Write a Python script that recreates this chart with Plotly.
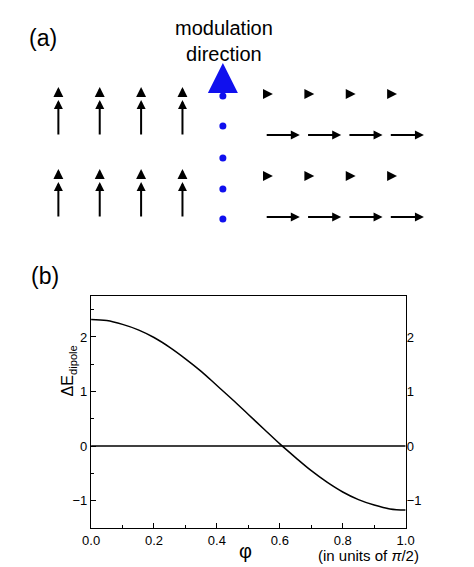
import plotly.graph_objects as go

# (b) curve
phi = [0.0, 0.05, 0.1, 0.15, 0.2, 0.25, 0.3, 0.35, 0.4, 0.45, 0.5,
       0.55, 0.6, 0.65, 0.7, 0.75, 0.8, 0.85, 0.9, 0.95, 1.0]
dE = [2.32, 2.30, 2.23, 2.13, 1.99, 1.81, 1.60, 1.37, 1.11, 0.85, 0.58,
      0.31, 0.04, -0.21, -0.45, -0.66, -0.84, -0.98, -1.08, -1.15, -1.17]

# (a) spin sketch positions, pixel units of the top panel
up_x = [43, 86, 129, 172]
row_y = [86, 168]
right_x = [258, 301, 344, 387]
dots_y = [88, 118, 150, 181, 211]
mod_x = 214

fig = go.Figure()
fig.add_trace(go.Scatter(x=phi, y=dE, mode="lines", line=dict(color="black", width=1.5, shape="spline"),
                         showlegend=False))
fig.add_trace(go.Scatter(x=[0, 1], y=[0, 0], mode="lines", line=dict(color="black", width=1.5),
                         showlegend=False))
fig.add_trace(go.Scatter(x=[0], y=[0], yaxis="y3", mode="markers", marker=dict(opacity=0),
                         showlegend=False, hoverinfo="skip"))
fig.add_trace(go.Scatter(x=[mod_x] * len(dots_y), y=dots_y, xaxis="x2", yaxis="y2", mode="markers",
                         marker=dict(color="#1010ee", size=7, symbol="circle"), showlegend=False))

arr = dict(xref="x2", yref="y2", axref="x2", ayref="y2", showarrow=True, arrowhead=2,
           arrowcolor="black", text="")
ann = []
for ry in row_y:
    for x in up_x:
        ann.append(dict(x=x, y=ry - 7, ax=x, ay=ry - 2, arrowsize=0.9, arrowwidth=2.2, **arr))
        ann.append(dict(x=x, y=ry + 6, ax=x, ay=ry + 42, arrowsize=0.9, arrowwidth=2, **arr))
    for x in right_x:
        ann.append(dict(x=x + 8, y=ry, ax=x + 3, ay=ry, arrowsize=0.9, arrowwidth=2.2, **arr))
        ann.append(dict(x=x + 36, y=ry + 41, ax=x, ay=ry + 41, arrowsize=0.9, arrowwidth=2, **arr))
ann.append(dict(x=mod_x, y=55, ax=mod_x, ay=86, xref="x2", yref="y2", axref="x2", ayref="y2",
                showarrow=True, arrowhead=2, arrowsize=1.5, arrowwidth=4, arrowcolor="#1010ee", text=""))

txt = dict(family="Arial", color="black")
ann += [
    dict(x=215, y=7, text="modulation<br>direction", xref="x2", yref="y2", showarrow=False,
         yanchor="top", font=dict(size=20, **txt)),
    dict(x=10, y=30, text="(a)", xref="x2", yref="y2", showarrow=False, xanchor="left",
         font=dict(size=23, **txt)),
    dict(x=12 / 474, y=1 - 268 / 567, text="(b)", xref="paper", yref="paper", showarrow=False,
         xanchor="left", font=dict(size=23, **txt)),
    dict(x=237 / 474, y=1 - 556 / 567, text="φ", xref="paper", yref="paper", showarrow=False,
         font=dict(size=20, **txt)),
    dict(x=420 / 474, y=1 - 558 / 567, text="(in units of <i>π</i>/2)", xref="paper", yref="paper",
         showarrow=False, xanchor="right", font=dict(size=15, **txt)),
    dict(x=42 / 474, y=1 - 390 / 567, text="ΔE<sub>dipole</sub>", xref="paper", yref="paper",
         showarrow=False, textangle=-90, font=dict(size=16, **txt)),
]

tf = dict(family="Arial", size=13, color="black")
ax_common = dict(showline=True, linecolor="black", linewidth=1.3, mirror=True, ticks="inside",
                 ticklen=5, tickcolor="black", showgrid=False, zeroline=False, tickfont=tf)
fig.update_layout(
    width=474, height=567, margin=dict(l=0, r=0, t=0, b=0),
    plot_bgcolor="white", paper_bgcolor="white",
    xaxis=dict(domain=[77 / 474, 404 / 474], range=[0, 1], dtick=0.2, tickformat=".1f",
               minor=dict(dtick=0.1, ticks="inside", ticklen=3, tickcolor="black"), **ax_common),
    yaxis=dict(domain=[1 - 520 / 567, 1 - 288 / 567], range=[-1.5, 2.75], dtick=1,
               minor=dict(dtick=0.5, ticks="inside", ticklen=3, tickcolor="black"), **ax_common),
    yaxis3=dict(overlaying="y", side="right", range=[-1.5, 2.75], dtick=1, showline=False,
                ticks="", showgrid=False, zeroline=False, tickfont=tf),
    xaxis2=dict(domain=[0, 1], range=[0, 474], visible=False, anchor="y2"),
    yaxis2=dict(domain=[1 - 230 / 567, 1], range=[230, 0], visible=False, anchor="x2"),
    annotations=ann,
)
fig.write_html("out.html")
